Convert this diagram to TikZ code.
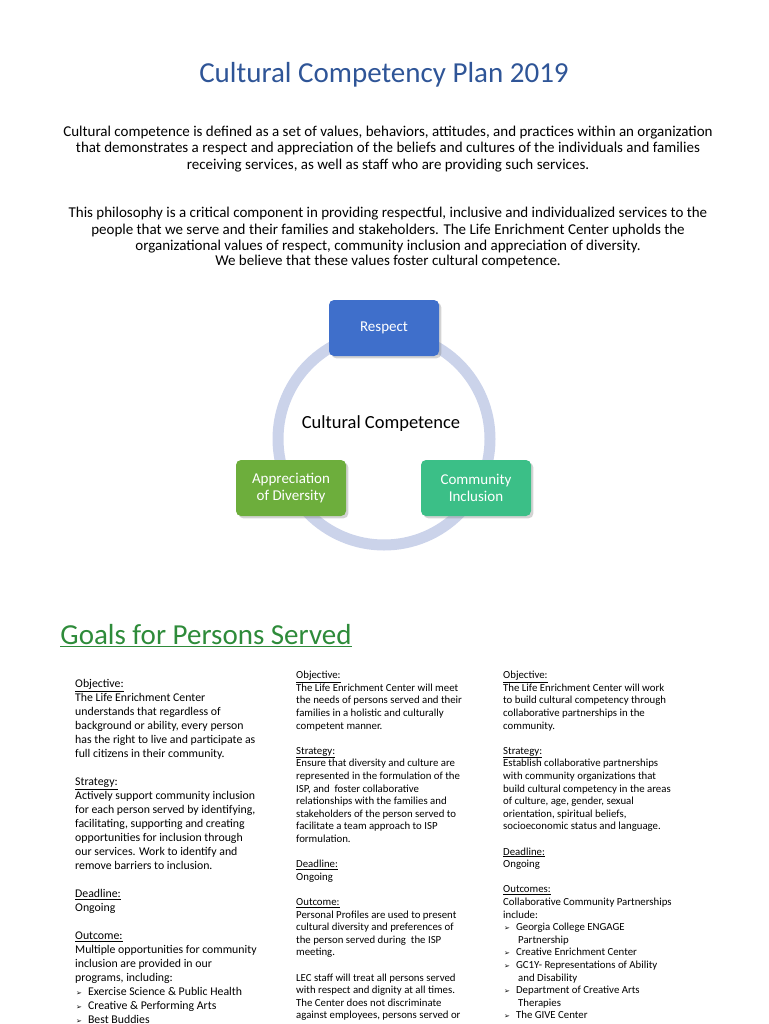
\documentclass[tikz,border=0pt]{standalone}
\usepackage{fontspec}
\setmainfont{Carlito}
\newfontfamily\symf{DejaVu Sans}
\usetikzlibrary{shadows}
\definecolor{titleblue}{HTML}{2F5597}
\definecolor{goalgreen}{HTML}{2E8B3A}
\definecolor{ringc}{HTML}{CBD3EA}
\definecolor{bluebox}{HTML}{3F6FCB}
\definecolor{greenbox}{HTML}{6DAE3C}
\definecolor{tealbox}{HTML}{3BBF87}
\tikzset{
  cbox/.style={rounded corners=5pt, minimum width=110pt, minimum height=56pt, text=white, align=center, font=\fontsize{15}{17}\selectfont, drop shadow={opacity=0.35}},
  col/.style={anchor=north west, align=left, inner sep=0pt},
}
\newcommand{\ul}[1]{\underline{#1}}
\newcommand{\bul}{\hspace*{1pt}{\symf\scriptsize ➢}\hspace{6pt}}
\begin{document}
\begin{tikzpicture}[x=1pt,y=-1pt]
\useasboundingbox (0,0) rectangle (768,1024);
\clip (0,0) rectangle (768,1024);
\node[text=titleblue, font=\fontsize{29}{34}\selectfont] (title) at (384,75) {Cultural Competency Plan 2019};
\node[align=center, font=\fontsize{15}{16.5}\selectfont] (p1) at (388,149) {Cultural competence is defined as a set of values, behaviors, attitudes, and practices within an organization\\that demonstrates a respect and appreciation of the beliefs and cultures of the individuals and families\\receiving services, as well as staff who are providing such services.};
\node[align=center, font=\fontsize{15}{16}\selectfont] (p2) at (388,238) {This philosophy is a critical component in providing respectful, inclusive and individualized services to the\\people that we serve and their families and stakeholders. The Life Enrichment Center upholds the\\organizational values of respect, community inclusion and appreciation of diversity.\\We believe that these values foster cultural competence.};
\draw[ringc, line width=11pt] (384,439) circle (106);
\node[font=\fontsize{18.5}{21}\selectfont] (cc) at (381,424) {Cultural Competence};
\node[cbox, fill=bluebox] (resp) at (384,328) {Respect};
\node[cbox, fill=greenbox] (app) at (291,488) {Appreciation\\of Diversity};
\node[cbox, fill=tealbox] (comm) at (476,488) {Community\\Inclusion};
\node[text=goalgreen, font=\fontsize{29}{34}\selectfont] (goals) at (206,636) {\ul{Goals for Persons Served}};
\node[col, font=\fontsize{11.8}{14}\selectfont] (c1) at (75,679) {\ul{Objective:}\\The Life Enrichment Center\\understands that regardless of\\background or ability, every person\\has the right to live and participate as\\full citizens in their community.\\[14pt]\ul{Strategy:}\\Actively support community inclusion\\for each person served by identifying,\\facilitating, supporting and creating\\opportunities for inclusion through\\our services. Work to identify and\\remove barriers to inclusion.\\[14pt]\ul{Deadline:}\\Ongoing\\[14pt]\ul{Outcome:}\\Multiple opportunities for community\\inclusion are provided in our\\programs, including:\\\bul Exercise Science \& Public Health\\\bul Creative \& Performing Arts\\\bul Best Buddies};
\node[col, font=\fontsize{10.8}{12.6}\selectfont] (c2) at (296,671) {\ul{Objective:}\\The Life Enrichment Center will meet\\the needs of persons served and their\\families in a holistic and culturally\\competent manner.\\[12.6pt]\ul{Strategy:}\\Ensure that diversity and culture are\\represented in the formulation of the\\ISP, and\ \ foster collaborative\\relationships with the families and\\stakeholders of the person served to\\facilitate a team approach to ISP\\formulation.\\[12.6pt]\ul{Deadline:}\\Ongoing\\[12.6pt]\ul{Outcome:}\\Personal Profiles are used to present\\cultural diversity and preferences of\\the person served during\ \ the ISP\\meeting.\\[12.6pt]LEC staff will treat all persons served\\with respect and dignity at all times.\\The Center does not discriminate\\against employees, persons served or};
\node[col, font=\fontsize{10.8}{12.6}\selectfont] (c3) at (503,671) {\ul{Objective:}\\The Life Enrichment Center will work\\to build cultural competency through\\collaborative partnerships in the\\community.\\[12.6pt]\ul{Strategy:}\\Establish collaborative partnerships\\with community organizations that\\build cultural competency in the areas\\of culture, age, gender, sexual\\orientation, spiritual beliefs,\\socioeconomic status and language.\\[12.6pt]\ul{Deadline:}\\Ongoing\\[12.6pt]\ul{Outcomes:}\\Collaborative Community Partnerships\\include:\\\bul Georgia College ENGAGE\\\hspace*{15pt}Partnership\\\bul Creative Enrichment Center\\\bul GC1Y- Representations of Ability\\\hspace*{15pt}and Disability\\\bul Department of Creative Arts\\\hspace*{15pt}Therapies\\\bul The GIVE Center};
\end{tikzpicture}
\end{document}
